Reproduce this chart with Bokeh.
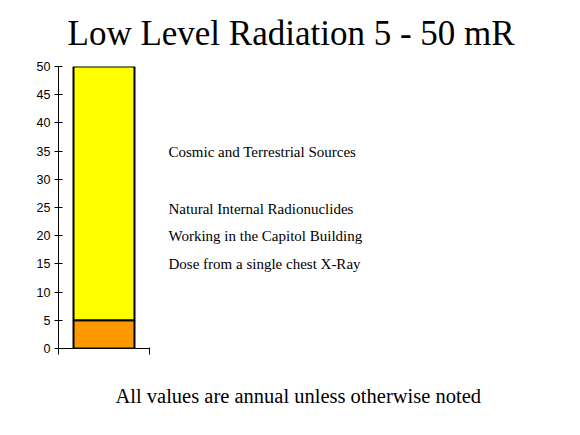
from bokeh.plotting import figure
from bokeh.models import ColumnDataSource, Range1d, FixedTicker, Title
from bokeh.core.properties import value
from bokeh.embed import file_html
from bokeh.resources import INLINE

# ---- data ----
segment_names = ["Base dose", "Low level range"]
segment_bottoms = [0, 5]
segment_tops = [5, 50]
segment_colors = ["#FF9900", "#FFFF00"]

note_labels = [
    "Cosmic and Terrestrial Sources",
    "Natural Internal Radionuclides",
    "Working in the Capitol Building",
    "Dose from a single chest X-Ray",
]
note_values = [34.8, 24.7, 20.0, 14.9]

y_ticks = [0, 5, 10, 15, 20, 25, 30, 35, 40, 45, 50]

title_text = "Low Level Radiation 5 - 50 mR"
footer_text = "All values are annual unless otherwise noted"

W, H = 564, 435
FL, FT, FB = 58, 66, 348  # frame edges (px)
FR = 560
UNIT = 91.0  # px per x unit (bar category slot)

p = figure(width=W, height=H, output_backend="svg", toolbar_location=None,
           x_range=Range1d(0, (FR - FL) / UNIT), y_range=Range1d(0, 50),
           min_border_left=FL, min_border_right=W - FR,
           min_border_top=FT, min_border_bottom=H - FB)
p.background_fill_color = "white"
p.border_fill_color = "white"
p.outline_line_color = None
p.xgrid.visible = False
p.ygrid.visible = False

src = ColumnDataSource(dict(name=segment_names, bottom=segment_bottoms,
                            top=segment_tops, color=segment_colors))
p.vbar(x=0.5, width=0.67, bottom="bottom", top="top", source=src,
       fill_color="color", line_color="black", line_width=2)

# y axis
ya = p.yaxis[0]
ya.ticker = FixedTicker(ticks=y_ticks)
ya.axis_line_color = "black"
ya.axis_line_width = 1
ya.major_tick_line_color = "black"
ya.major_tick_in = 4
ya.major_tick_out = 4
ya.minor_tick_line_color = None
ya.major_label_standoff = 4
ya.major_label_text_font = "Liberation Sans"
ya.major_label_text_font_size = "12.5px"
ya.major_label_text_color = "black"

# x axis (single category slot 0..1)
xa = p.xaxis[0]
xa.bounds = (0, 1)
xa.ticker = FixedTicker(ticks=[0, 1])
xa.axis_line_color = "black"
xa.axis_line_width = 1
xa.major_tick_in = 1
xa.major_tick_out = 6
xa.minor_tick_line_color = None
xa.major_label_overrides = {0: "", 1: ""}
xa.major_label_text_font_size = "1px"
xa.major_label_standoff = 0

# annotation notes
note_src = ColumnDataSource(dict(x=[(168 - FL) / UNIT] * len(note_labels),
                                 y=note_values, text=note_labels))
p.text(x="x", y="y", text="text", source=note_src,
       text_font=value("Liberation Serif"), text_font_size="15px",
       text_color="black", text_baseline="middle", text_align="left")

p.title.text = title_text
p.title.text_font = "Liberation Serif"
p.title.text_font_size = "35px"
p.title.text_font_style = "normal"
p.title.text_color = "black"
p.title.text_line_height = 1.0
p.title.align = "left"
p.title.vertical_align = "top"
p.title.offset = 9
p.title.standoff = 23

p.add_layout(Title(text=footer_text, text_font="Liberation Serif",
                   text_font_size="20.5px", text_font_style="normal",
                   text_color="black", align="left", offset=57,
                   standoff=57), "below")

open("out.html", "w").write(file_html(p, INLINE))
